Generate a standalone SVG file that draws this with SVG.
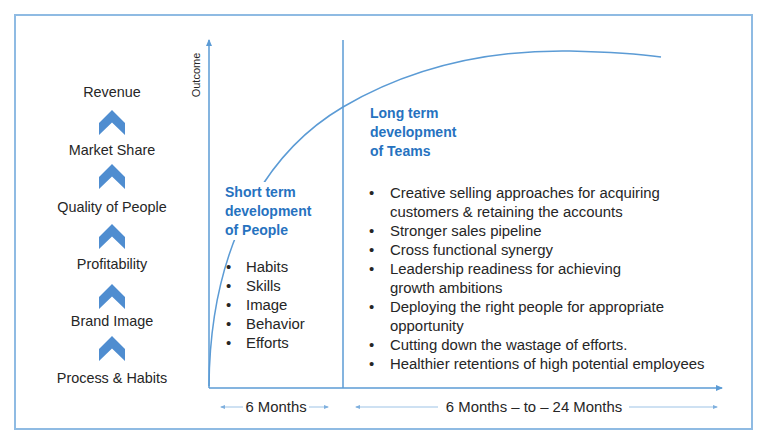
<svg xmlns="http://www.w3.org/2000/svg" width="768" height="444" viewBox="0 0 768 444">
<style>
.t{font-family:"Liberation Sans",Arial,sans-serif;font-size:14.4px;fill:#262626}
.b{font-family:"Liberation Sans",Arial,sans-serif;font-size:14px;font-weight:bold;fill:#2672bf}
.l{font-family:"Liberation Sans",Arial,sans-serif;font-size:14.9px;fill:#262626}
.ax{stroke:#5b9bd5;stroke-width:1.5;fill:none}
.dim{stroke:#9dc3e6;stroke-width:1;fill:none}
.chev{fill:#4f8dd0}
</style>
<defs>
<marker id="ah" markerWidth="8" markerHeight="8" refX="6" refY="4" orient="auto" markerUnits="userSpaceOnUse"><path d="M0,1 L7,4 L0,7 Z" fill="#5b9bd5"/></marker>
<marker id="sh" markerWidth="6" markerHeight="6" refX="4" refY="3" orient="auto-start-reverse" markerUnits="userSpaceOnUse"><path d="M0,1 L5,3 L0,5 Z" fill="#7fb0de"/></marker>
<polygon id="cv" points="-13,25 -13,13 0,0 13,13 13,25 0,12.5"/>
</defs>
<rect x="15" y="15" width="737" height="414" fill="#fff" stroke="#8fbbe3" stroke-width="2"/>

<g id="ladder">
<text class="t" x="112" y="97" text-anchor="middle">Revenue</text>
<use href="#cv" class="chev" x="112" y="110"/>
<text class="t" x="112" y="155" text-anchor="middle">Market Share</text>
<use href="#cv" class="chev" x="112" y="164"/>
<text class="t" x="112" y="212" text-anchor="middle">Quality of People</text>
<use href="#cv" class="chev" x="112" y="224"/>
<text class="t" x="112" y="269" text-anchor="middle">Profitability</text>
<use href="#cv" class="chev" x="112" y="284"/>
<text class="t" x="112" y="326" text-anchor="middle">Brand Image</text>
<use href="#cv" class="chev" x="112" y="336"/>
<text class="t" x="112" y="383" text-anchor="middle">Process &amp; Habits</text>
</g>

<g id="connectors">
<line class="ax" x1="209" y1="388" x2="209" y2="40" marker-end="url(#ah)"/>
<line class="ax" x1="209" y1="388" x2="722" y2="388" marker-end="url(#ah)"/>
<line class="ax" x1="343" y1="388" x2="343" y2="40"/>
<path class="ax" d="M209,386 C210,240 270,150 343,107 C420,62 500,50 570,51 C610,52 640,54 661,57"/>
<line class="dim" x1="243" y1="407" x2="221" y2="407" marker-end="url(#sh)"/>
<line class="dim" x1="309" y1="407" x2="328" y2="407" marker-end="url(#sh)"/>
<line class="dim" x1="438" y1="407" x2="356" y2="407" marker-end="url(#sh)"/>
<line class="dim" x1="629" y1="407" x2="717" y2="407" marker-end="url(#sh)"/>
</g>

<text class="t" transform="translate(200,75) rotate(-90)" text-anchor="middle" style="font-size:11px">Outcome</text>

<g id="short-term">
<rect x="224" y="182" width="92" height="58" fill="#fff"/>
<text class="b" x="225" y="197">Short term</text>
<text class="b" x="225" y="216">development</text>
<text class="b" x="225" y="235">of People</text>
<text class="l" x="226" y="272">•</text><text class="l" x="246" y="272">Habits</text>
<text class="l" x="226" y="291">•</text><text class="l" x="246" y="291">Skills</text>
<text class="l" x="226" y="310">•</text><text class="l" x="246" y="310">Image</text>
<text class="l" x="226" y="329">•</text><text class="l" x="246" y="329">Behavior</text>
<text class="l" x="226" y="348">•</text><text class="l" x="246" y="348">Efforts</text>
</g>

<g id="long-term">
<text class="b" x="370" y="118">Long term</text>
<text class="b" x="370" y="137">development</text>
<text class="b" x="370" y="156">of Teams</text>
<text class="l" x="369" y="198">•</text><text class="l" x="390" y="198">Creative selling approaches for acquiring</text>
<text class="l" x="390" y="217">customers &amp; retaining the accounts</text>
<text class="l" x="369" y="236">•</text><text class="l" x="390" y="236">Stronger sales pipeline</text>
<text class="l" x="369" y="255">•</text><text class="l" x="390" y="255">Cross functional synergy</text>
<text class="l" x="369" y="274">•</text><text class="l" x="390" y="274">Leadership readiness for achieving</text>
<text class="l" x="390" y="293">growth ambitions</text>
<text class="l" x="369" y="312">•</text><text class="l" x="390" y="312">Deploying the right people for appropriate</text>
<text class="l" x="390" y="331">opportunity</text>
<text class="l" x="369" y="350">•</text><text class="l" x="390" y="350">Cutting down the wastage of efforts.</text>
<text class="l" x="369" y="369">•</text><text class="l" x="390" y="369">Healthier retentions of high potential employees</text>
</g>

<g id="timeline">
<text class="l" x="276" y="412" text-anchor="middle">6 Months</text>
<text class="l" x="534" y="412" text-anchor="middle">6 Months – to – 24 Months</text>
</g>
</svg>
